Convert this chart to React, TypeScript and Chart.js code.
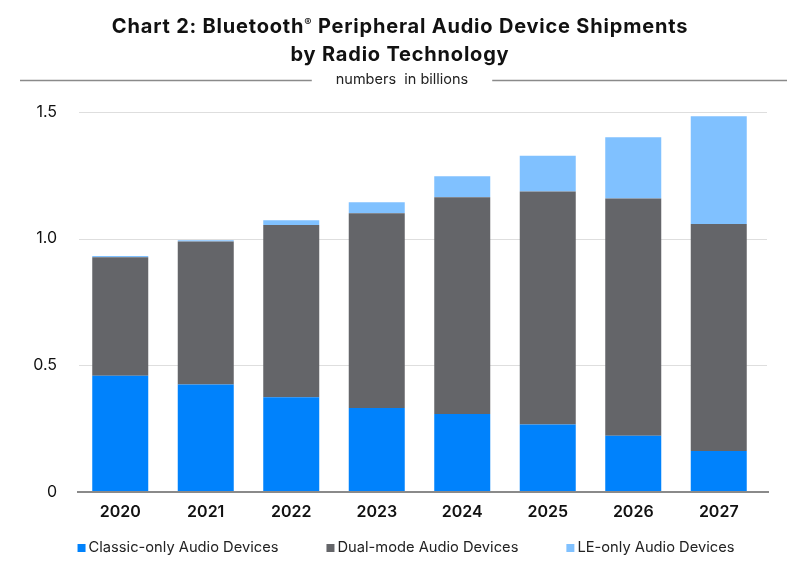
import React, { useEffect, useRef } from "react";
import { Chart, registerables } from "chart.js";

Chart.register(...registerables);

const years = ["2020", "2021", "2022", "2023", "2024", "2025", "2026", "2027"];
const classicOnly = [0.459, 0.424, 0.374, 0.332, 0.308, 0.266, 0.222, 0.162];
const dualMode = [0.468, 0.565, 0.68, 0.768, 0.855, 0.92, 0.937, 0.896];
const leOnly = [0.005, 0.005, 0.019, 0.044, 0.083, 0.141, 0.241, 0.425];
const seriesNames = ["Classic-only Audio Devices", "Dual-mode Audio Devices", "LE-only Audio Devices"];
const seriesColors = ["#0082FC", "#646569", "#80C1FF"];
const titleLine1Parts = ["Chart 2: Bluetooth", "®", " Peripheral Audio Device Shipments"];
const titleLine2 = "by Radio Technology";
const subtitleText = "numbers  in billions";
const yTicks = [0, 0.5, 1.0, 1.5];

const FONT = "Inter, 'Noto Sans', sans-serif";

const decorPlugin = {
  id: "decor",
  beforeDatasetsDraw(chart: any) {
    const ctx = chart.ctx;
    const ys = chart.scales.y;
    ctx.save();
    ctx.strokeStyle = "#dedede";
    ctx.lineWidth = 1;
    yTicks.forEach((v) => {
      if (v === 0) return;
      const y = Math.round(ys.getPixelForValue(v)) + 0.5;
      ctx.beginPath();
      ctx.moveTo(79, y);
      ctx.lineTo(767, y);
      ctx.stroke();
    });
    ctx.restore();
  },
  afterDatasetsDraw(chart: any) {
    const ctx = chart.ctx;
    const ys = chart.scales.y;
    ctx.save();
    const y0 = ys.getPixelForValue(0);
    ctx.strokeStyle = "#8a8a8a";
    ctx.lineWidth = 2;
    ctx.beginPath();
    ctx.moveTo(77, y0);
    ctx.lineTo(769, y0);
    ctx.stroke();
    ctx.restore();
  },
  afterDraw(chart: any) {
    const ctx = chart.ctx;
    ctx.save();
    // title line 1 with superscript ®
    ctx.fillStyle = "#111111";
    ctx.textBaseline = "alphabetic";
    ctx.textAlign = "left";
    const big = `bold 20px ${FONT}`;
    const small = `bold 11px ${FONT}`;
    (ctx as any).letterSpacing = "0.8px";
    ctx.font = big;
    const w0 = ctx.measureText(titleLine1Parts[0]).width;
    const w2 = ctx.measureText(titleLine1Parts[2]).width;
    ctx.font = small;
    const w1 = ctx.measureText(titleLine1Parts[1]).width;
    let x = 400 - (w0 + w1 + w2) / 2;
    const base1 = 33;
    ctx.font = big;
    ctx.fillText(titleLine1Parts[0], x, base1);
    x += w0;
    ctx.font = small;
    ctx.fillText(titleLine1Parts[1], x, base1 - 7);
    x += w1;
    ctx.font = big;
    ctx.fillText(titleLine1Parts[2], x, base1);
    ctx.textAlign = "center";
    ctx.fillText(titleLine2, 400, 61);
    (ctx as any).letterSpacing = "0px";
    // subtitle with rules
    ctx.textBaseline = "middle";
    ctx.font = `14.5px ${FONT}`;
    const tw = ctx.measureText(subtitleText).width;
    const cx = 402;
    ctx.fillStyle = "#222222";
    ctx.fillText(subtitleText, cx, 80);
    ctx.strokeStyle = "#8a8a8a";
    ctx.lineWidth = 1.5;
    ctx.beginPath();
    ctx.moveTo(20, 80.5);
    ctx.lineTo(cx - tw / 2 - 24, 80.5);
    ctx.moveTo(cx + tw / 2 + 24, 80.5);
    ctx.lineTo(787, 80.5);
    ctx.stroke();
    // legend
    ctx.font = `14.7px ${FONT}`;
    ctx.textAlign = "left";
    const box = 8;
    const gapText = 3;
    const gapItem = 48;
    const widths = seriesNames.map((n) => box + gapText + ctx.measureText(n).width);
    const total = widths.reduce((a, b) => a + b, 0) + gapItem * (seriesNames.length - 1);
    let lx = 406 - total / 2;
    const ly = 548;
    seriesNames.forEach((n, i) => {
      ctx.fillStyle = seriesColors[i];
      ctx.fillRect(lx, ly - box / 2, box, box);
      ctx.fillStyle = "#222222";
      ctx.fillText(n, lx + box + gapText, ly);
      lx += widths[i] + gapItem;
    });
    ctx.restore();
  },
};

export default function App() {
  const ref = useRef<HTMLCanvasElement>(null);
  useEffect(() => {
    if (!ref.current) return;
    const chart = new Chart(ref.current, {
      type: "bar",
      data: {
        labels: years,
        datasets: [
          { label: seriesNames[0], data: classicOnly, backgroundColor: seriesColors[0] },
          { label: seriesNames[1], data: dualMode, backgroundColor: seriesColors[1] },
          { label: seriesNames[2], data: leOnly, backgroundColor: seriesColors[2] },
        ].map((d) => ({ ...d, categoryPercentage: 1, barPercentage: 0.655, borderWidth: 0 })),
      },
      options: {
        responsive: false,
        animation: false,
        layout: { padding: { left: 0, right: 38.5, top: 112, bottom: 0 } },
        plugins: { legend: { display: false }, title: { display: false }, tooltip: { enabled: false } },
        scales: {
          x: {
            stacked: true,
            grid: { display: false, drawTicks: false },
            border: { display: false },
            ticks: { color: "#111111", font: { family: FONT, size: 16, weight: "600" }, padding: 11 },
            afterFit: (s: any) => {
              s.height = 92;
            },
          },
          y: {
            stacked: true,
            min: 0,
            max: 1.5,
            afterBuildTicks: (s: any) => {
              s.ticks = yTicks.map((v) => ({ value: v }));
            },
            grid: { display: false, drawTicks: false },
            border: { display: false },
            ticks: {
              color: "#111111",
              font: { family: FONT, size: 16 },
              padding: 20.5,
              callback: (v: any) => (Number(v) === 0 ? "0" : Number(v).toFixed(1)),
            },
            afterFit: (s: any) => {
              s.width = 77.5;
            },
          },
        },
      },
      plugins: [decorPlugin],
    } as any);
    return () => chart.destroy();
  }, []);
  return (
    <div style={{ position: "fixed", left: 0, top: 0, width: 800, height: 584, background: "#fff" }}>
      <canvas ref={ref} width={800} height={584} style={{ width: 800, height: 584 }} />
    </div>
  );
}
